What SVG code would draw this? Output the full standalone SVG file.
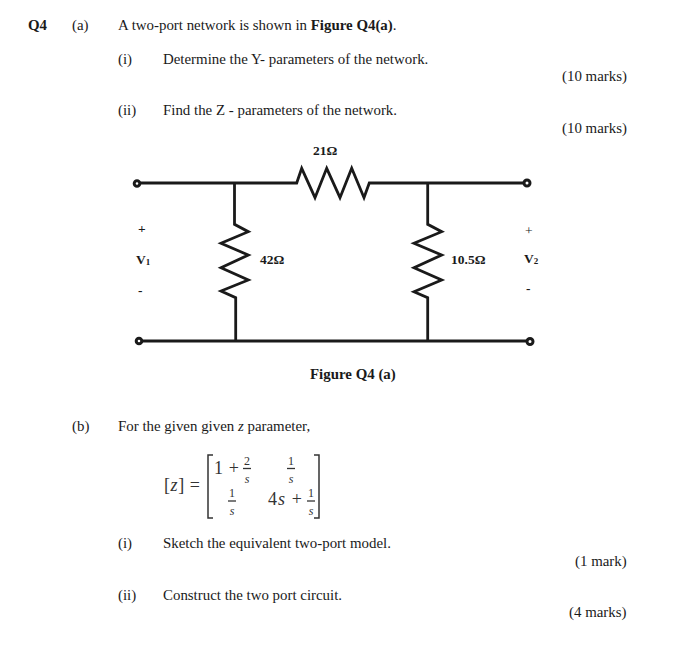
<svg xmlns="http://www.w3.org/2000/svg" width="673" height="662" viewBox="0 0 673 662">
<style>
text{font-family:"Liberation Serif","Times New Roman",serif;font-size:14.9px;fill:#1a1a1a}
.b{font-weight:bold}
.s{font-size:13.5px}
.mf{font-size:18px;fill:#333}
.fr{font-size:12px;fill:#333;text-anchor:middle}
.i{font-style:italic}
.w{fill:none;stroke:#1a1a1a;stroke-width:2.8;stroke-linejoin:miter}
.t{fill:#fff;stroke:#1a1a1a;stroke-width:3}
.l{fill:none;stroke:#333;stroke-width:1.3}
.br{fill:none;stroke:#333;stroke-width:1.5}
</style>
<rect width="673" height="662" fill="#fff"/>
<g id="questions">
<text class="b" x="28" y="30">Q4</text>
<text x="72" y="30">(a)</text>
<text x="118" y="30">A two-port network is shown in <tspan class="b">Figure Q4(a)</tspan>.</text>
<text x="118" y="64">(i)</text>
<text x="163" y="64">Determine the Y- parameters of the network.</text>
<text x="562" y="81">(10 marks)</text>
<text x="118" y="115">(ii)</text>
<text x="163" y="115">Find the Z - parameters of the network.</text>
<text x="562" y="133">(10 marks)</text>
<text class="b" x="310" y="379">Figure Q4 (a)</text>
<text x="72" y="431">(b)</text>
<text x="118" y="431">For the given given <tspan class="i">z</tspan> parameter,</text>
<text x="118" y="548">(i)</text>
<text x="163" y="548">Sketch the equivalent two-port model.</text>
<text x="575" y="566">(1 mark)</text>
<text x="118" y="600">(ii)</text>
<text x="163" y="600">Construct the two port circuit.</text>
<text x="569" y="617">(4 marks)</text>
</g>
<g id="connectors">
<path class="w" d="M137 183H296.700L301.700 168.300L315 197.700L326.700 168.300L340 197.700L351.700 168.300L364 197.700L369.300 183H527"/>
<path class="w" d="M139 341H529"/>
<path class="w" d="M234.500 183V224.300L248.300 231.700L221 243.300L248.300 255L221 267.700L248.300 280L221 291L235.700 297.700V341"/>
<path class="w" d="M427.700 183V224.300L441.700 231.700L414 243.300L441.700 255L414 267.700L441.700 280L414 291.700L427.700 297.700V341"/>
</g>
<g id="port-1-top"><circle class="t" cx="137" cy="183.500" r="2.800"/></g>
<g id="port-1-bottom"><circle class="t" cx="139" cy="341" r="2.800"/></g>
<g id="port-2-top"><circle class="t" cx="527" cy="183" r="3"/></g>
<g id="port-2-bottom"><circle class="t" cx="530" cy="341.500" r="3"/></g>
<g id="r-21"><text class="b s" x="313" y="155">21Ω</text></g>
<g id="r-42"><text class="b s" x="260" y="264">42Ω</text></g>
<g id="r-10-5"><text class="b s" x="451" y="264">10.5Ω</text></g>
<g id="v1">
<text class="b s" x="138" y="233">+</text>
<text class="b s" x="136" y="264">V<tspan font-size="9" dy="1">1</tspan></text>
<text class="b s" x="138" y="295">-</text>
</g>
<g id="v2">
<text class="s" x="525" y="235">+</text>
<text class="b s" x="524" y="263">V<tspan font-size="9" dy="1">2</tspan></text>
<text class="b s" x="526" y="293">-</text>
</g>
<g id="matrix">
<text class="mf" x="164" y="491" textLength="36">[<tspan class="i">z</tspan>] =</text>
<path class="br" d="M213 455H208V518H213M314 455H319V518H314"/>
<text class="mf" x="214" y="474" textLength="25">1 +</text>
<text class="fr" x="247" y="465">2</text><path class="l" d="M243 468.500H251"/><text class="fr i" x="247" y="483">s</text>
<text class="fr" x="291" y="465">1</text><path class="l" d="M287 468.500H295"/><text class="fr i" x="291" y="483">s</text>
<text class="fr" x="232" y="497">1</text><path class="l" d="M228 501H236"/><text class="fr i" x="232" y="515">s</text>
<text class="mf" x="268" y="505" textLength="34">4<tspan class="i">s</tspan> +</text>
<text class="fr" x="311" y="497">1</text><path class="l" d="M307 501H315"/><text class="fr i" x="311" y="515">s</text>
</g>
</svg>
